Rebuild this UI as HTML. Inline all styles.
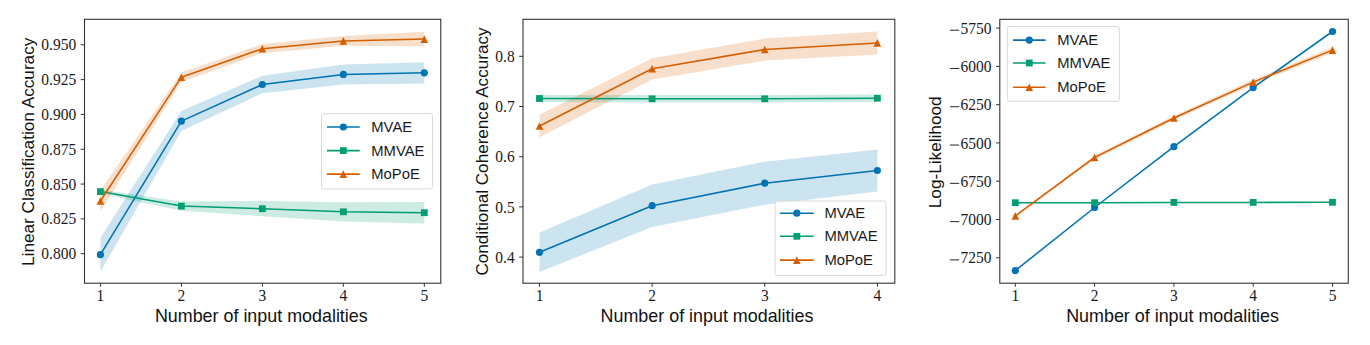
<!DOCTYPE html>
<html><head><meta charset="utf-8"><style>
html,body{margin:0;padding:0;background:#fff;}
body{width:1370px;height:345px;overflow:hidden;}
svg{display:block;}
.tk{font-family:"Liberation Serif",serif;font-size:15.5px;fill:#1a1a1a;}
.lb{font-family:"Liberation Sans",sans-serif;font-size:17.9px;fill:#111;}
.lg{font-family:"Liberation Sans",sans-serif;font-size:14.8px;fill:#1a1a1a;}
</style></head><body>
<svg width="1370" height="345" viewBox="0 0 1370 345">
<rect width="1370" height="345" fill="#fff"/>
<polygon points="100.40,237.70 181.38,111.10 262.36,75.80 343.34,64.40 424.32,62.20 424.32,83.40 343.34,84.40 262.36,93.20 181.38,131.10 100.40,271.70" fill="#0173b2" fill-opacity="0.2" stroke="none"/>
<polygon points="100.40,189.40 181.38,201.40 262.36,201.10 343.34,202.20 424.32,202.00 424.32,223.40 343.34,221.40 262.36,216.30 181.38,210.80 100.40,193.80" fill="#029e73" fill-opacity="0.2" stroke="none"/>
<polygon points="100.40,190.50 181.38,72.40 262.36,44.10 343.34,36.10 424.32,31.70 424.32,46.50 343.34,45.70 262.36,53.30 181.38,82.00 100.40,211.50" fill="#d55e00" fill-opacity="0.2" stroke="none"/>
<polyline points="100.40,254.70 181.38,121.10 262.36,84.50 343.34,74.40 424.32,72.80" fill="none" stroke="#0173b2" stroke-width="1.55" stroke-linejoin="round" stroke-linecap="butt"/>
<circle cx="100.40" cy="254.70" r="3.6" fill="#0173b2"/>
<circle cx="181.38" cy="121.10" r="3.6" fill="#0173b2"/>
<circle cx="262.36" cy="84.50" r="3.6" fill="#0173b2"/>
<circle cx="343.34" cy="74.40" r="3.6" fill="#0173b2"/>
<circle cx="424.32" cy="72.80" r="3.6" fill="#0173b2"/>
<polyline points="100.40,191.60 181.38,206.10 262.36,208.70 343.34,211.80 424.32,212.70" fill="none" stroke="#029e73" stroke-width="1.55" stroke-linejoin="round" stroke-linecap="butt"/>
<rect x="97.00" y="188.20" width="6.8" height="6.8" fill="#029e73"/>
<rect x="177.98" y="202.70" width="6.8" height="6.8" fill="#029e73"/>
<rect x="258.96" y="205.30" width="6.8" height="6.8" fill="#029e73"/>
<rect x="339.94" y="208.40" width="6.8" height="6.8" fill="#029e73"/>
<rect x="420.92" y="209.30" width="6.8" height="6.8" fill="#029e73"/>
<polyline points="100.40,201.00 181.38,77.20 262.36,48.70 343.34,40.90 424.32,39.10" fill="none" stroke="#d55e00" stroke-width="1.55" stroke-linejoin="round" stroke-linecap="butt"/>
<polygon points="100.40,197.20 96.60,204.80 104.20,204.80" fill="#d55e00"/>
<polygon points="181.38,73.40 177.58,81.00 185.18,81.00" fill="#d55e00"/>
<polygon points="262.36,44.90 258.56,52.50 266.16,52.50" fill="#d55e00"/>
<polygon points="343.34,37.10 339.54,44.70 347.14,44.70" fill="#d55e00"/>
<polygon points="424.32,35.30 420.52,42.90 428.12,42.90" fill="#d55e00"/>
<rect x="84.5" y="19.3" width="356.30" height="263.90" fill="none" stroke="#333333" stroke-width="1.1"/>
<line x1="100.40" y1="283.2" x2="100.40" y2="286.80" stroke="#333333" stroke-width="1"/>
<text class="tk" text-anchor="middle" transform="translate(100.40,301) scale(1,1.09)">1</text>
<line x1="181.38" y1="283.2" x2="181.38" y2="286.80" stroke="#333333" stroke-width="1"/>
<text class="tk" text-anchor="middle" transform="translate(181.38,301) scale(1,1.09)">2</text>
<line x1="262.36" y1="283.2" x2="262.36" y2="286.80" stroke="#333333" stroke-width="1"/>
<text class="tk" text-anchor="middle" transform="translate(262.36,301) scale(1,1.09)">3</text>
<line x1="343.34" y1="283.2" x2="343.34" y2="286.80" stroke="#333333" stroke-width="1"/>
<text class="tk" text-anchor="middle" transform="translate(343.34,301) scale(1,1.09)">4</text>
<line x1="424.32" y1="283.2" x2="424.32" y2="286.80" stroke="#333333" stroke-width="1"/>
<text class="tk" text-anchor="middle" transform="translate(424.32,301) scale(1,1.09)">5</text>
<line x1="80.70" y1="253.70" x2="84.50" y2="253.70" stroke="#333333" stroke-width="1"/>
<text class="tk" text-anchor="end" transform="translate(76.20,259.30) scale(1,1.09)">0.800</text>
<line x1="80.70" y1="218.88" x2="84.50" y2="218.88" stroke="#333333" stroke-width="1"/>
<text class="tk" text-anchor="end" transform="translate(76.20,224.48) scale(1,1.09)">0.825</text>
<line x1="80.70" y1="184.06" x2="84.50" y2="184.06" stroke="#333333" stroke-width="1"/>
<text class="tk" text-anchor="end" transform="translate(76.20,189.66) scale(1,1.09)">0.850</text>
<line x1="80.70" y1="149.25" x2="84.50" y2="149.25" stroke="#333333" stroke-width="1"/>
<text class="tk" text-anchor="end" transform="translate(76.20,154.85) scale(1,1.09)">0.875</text>
<line x1="80.70" y1="114.43" x2="84.50" y2="114.43" stroke="#333333" stroke-width="1"/>
<text class="tk" text-anchor="end" transform="translate(76.20,120.03) scale(1,1.09)">0.900</text>
<line x1="80.70" y1="79.61" x2="84.50" y2="79.61" stroke="#333333" stroke-width="1"/>
<text class="tk" text-anchor="end" transform="translate(76.20,85.21) scale(1,1.09)">0.925</text>
<line x1="80.70" y1="44.79" x2="84.50" y2="44.79" stroke="#333333" stroke-width="1"/>
<text class="tk" text-anchor="end" transform="translate(76.20,50.39) scale(1,1.09)">0.950</text>
<rect x="321.5" y="113.6" width="111.00" height="75.30" rx="2.5" ry="2.5" fill="#ffffff" fill-opacity="0.8" stroke="#d9d9d9" stroke-width="1"/>
<line x1="327" y1="127.00" x2="359.7" y2="127.00" stroke="#0173b2" stroke-width="1.55"/>
<circle cx="343.35" cy="127.00" r="3.6" fill="#0173b2"/>
<text x="371.3" y="132.00" class="lg">MVAE</text>
<line x1="327" y1="150.60" x2="359.7" y2="150.60" stroke="#029e73" stroke-width="1.55"/>
<rect x="339.95" y="147.20" width="6.8" height="6.8" fill="#029e73"/>
<text x="371.3" y="155.60" class="lg">MMVAE</text>
<line x1="327" y1="174.10" x2="359.7" y2="174.10" stroke="#d55e00" stroke-width="1.55"/>
<polygon points="343.35,170.30 339.55,177.90 347.15,177.90" fill="#d55e00"/>
<text x="371.3" y="179.10" class="lg">MoPoE</text>
<text x="261.3" y="321.6" class="lb" text-anchor="middle">Number of input modalities</text>
<text x="0" y="0" class="lb" style="font-size:17.2px" text-anchor="middle" transform="translate(34.2,151.8) rotate(-90)">Linear Classification Accuracy</text>
<polygon points="539.50,232.60 652.13,184.40 764.76,161.70 877.39,149.40 877.39,191.60 764.76,204.70 652.13,227.00 539.50,272.00" fill="#0173b2" fill-opacity="0.2" stroke="none"/>
<polygon points="539.50,94.90 652.13,95.00 764.76,95.00 877.39,94.40 877.39,102.00 764.76,102.60 652.13,102.60 539.50,102.10" fill="#029e73" fill-opacity="0.2" stroke="none"/>
<polygon points="539.50,114.80 652.13,58.20 764.76,38.50 877.39,31.40 877.39,54.40 764.76,60.50 652.13,79.40 539.50,137.20" fill="#d55e00" fill-opacity="0.2" stroke="none"/>
<polyline points="539.50,252.30 652.13,205.70 764.76,183.20 877.39,170.50" fill="none" stroke="#0173b2" stroke-width="1.55" stroke-linejoin="round" stroke-linecap="butt"/>
<circle cx="539.50" cy="252.30" r="3.6" fill="#0173b2"/>
<circle cx="652.13" cy="205.70" r="3.6" fill="#0173b2"/>
<circle cx="764.76" cy="183.20" r="3.6" fill="#0173b2"/>
<circle cx="877.39" cy="170.50" r="3.6" fill="#0173b2"/>
<polyline points="539.50,98.50 652.13,98.80 764.76,98.80 877.39,98.20" fill="none" stroke="#029e73" stroke-width="1.55" stroke-linejoin="round" stroke-linecap="butt"/>
<rect x="536.10" y="95.10" width="6.8" height="6.8" fill="#029e73"/>
<rect x="648.73" y="95.40" width="6.8" height="6.8" fill="#029e73"/>
<rect x="761.36" y="95.40" width="6.8" height="6.8" fill="#029e73"/>
<rect x="873.99" y="94.80" width="6.8" height="6.8" fill="#029e73"/>
<polyline points="539.50,126.00 652.13,68.80 764.76,49.50 877.39,42.90" fill="none" stroke="#d55e00" stroke-width="1.55" stroke-linejoin="round" stroke-linecap="butt"/>
<polygon points="539.50,122.20 535.70,129.80 543.30,129.80" fill="#d55e00"/>
<polygon points="652.13,65.00 648.33,72.60 655.93,72.60" fill="#d55e00"/>
<polygon points="764.76,45.70 760.96,53.30 768.56,53.30" fill="#d55e00"/>
<polygon points="877.39,39.10 873.59,46.70 881.19,46.70" fill="#d55e00"/>
<rect x="523.0" y="19.3" width="371.80" height="263.90" fill="none" stroke="#333333" stroke-width="1.1"/>
<line x1="539.50" y1="283.2" x2="539.50" y2="286.80" stroke="#333333" stroke-width="1"/>
<text class="tk" text-anchor="middle" transform="translate(539.50,301) scale(1,1.09)">1</text>
<line x1="652.13" y1="283.2" x2="652.13" y2="286.80" stroke="#333333" stroke-width="1"/>
<text class="tk" text-anchor="middle" transform="translate(652.13,301) scale(1,1.09)">2</text>
<line x1="764.76" y1="283.2" x2="764.76" y2="286.80" stroke="#333333" stroke-width="1"/>
<text class="tk" text-anchor="middle" transform="translate(764.76,301) scale(1,1.09)">3</text>
<line x1="877.39" y1="283.2" x2="877.39" y2="286.80" stroke="#333333" stroke-width="1"/>
<text class="tk" text-anchor="middle" transform="translate(877.39,301) scale(1,1.09)">4</text>
<line x1="519.20" y1="257.10" x2="523.00" y2="257.10" stroke="#333333" stroke-width="1"/>
<text class="tk" text-anchor="end" transform="translate(514.70,262.70) scale(1,1.09)">0.4</text>
<line x1="519.20" y1="206.90" x2="523.00" y2="206.90" stroke="#333333" stroke-width="1"/>
<text class="tk" text-anchor="end" transform="translate(514.70,212.50) scale(1,1.09)">0.5</text>
<line x1="519.20" y1="156.70" x2="523.00" y2="156.70" stroke="#333333" stroke-width="1"/>
<text class="tk" text-anchor="end" transform="translate(514.70,162.30) scale(1,1.09)">0.6</text>
<line x1="519.20" y1="106.50" x2="523.00" y2="106.50" stroke="#333333" stroke-width="1"/>
<text class="tk" text-anchor="end" transform="translate(514.70,112.10) scale(1,1.09)">0.7</text>
<line x1="519.20" y1="56.30" x2="523.00" y2="56.30" stroke="#333333" stroke-width="1"/>
<text class="tk" text-anchor="end" transform="translate(514.70,61.90) scale(1,1.09)">0.8</text>
<rect x="775.1" y="201" width="111.00" height="74.50" rx="2.5" ry="2.5" fill="#ffffff" fill-opacity="0.8" stroke="#d9d9d9" stroke-width="1"/>
<line x1="780" y1="213.20" x2="813.7" y2="213.20" stroke="#0173b2" stroke-width="1.55"/>
<circle cx="796.85" cy="213.20" r="3.6" fill="#0173b2"/>
<text x="824.4" y="218.20" class="lg">MVAE</text>
<line x1="780" y1="236.30" x2="813.7" y2="236.30" stroke="#029e73" stroke-width="1.55"/>
<rect x="793.45" y="232.90" width="6.8" height="6.8" fill="#029e73"/>
<text x="824.4" y="241.30" class="lg">MMVAE</text>
<line x1="780" y1="260.10" x2="813.7" y2="260.10" stroke="#d55e00" stroke-width="1.55"/>
<polygon points="796.85,256.30 793.05,263.90 800.65,263.90" fill="#d55e00"/>
<text x="824.4" y="265.10" class="lg">MoPoE</text>
<text x="707.0" y="321.6" class="lb" text-anchor="middle">Number of input modalities</text>
<text x="0" y="0" class="lb" style="font-size:17.1px" text-anchor="middle" transform="translate(488.1,151.5) rotate(-90)">Conditional Coherence Accuracy</text>
<polygon points="1015.30,214.40 1094.60,155.40 1173.90,115.80 1253.20,79.60 1332.50,47.10 1332.50,53.10 1253.20,84.60 1173.90,120.20 1094.60,159.40 1015.30,217.40" fill="#d55e00" fill-opacity="0.2" stroke="none"/>
<polyline points="1015.30,270.60 1094.60,207.50 1173.90,146.70 1253.20,87.60 1332.50,31.50" fill="none" stroke="#0173b2" stroke-width="1.55" stroke-linejoin="round" stroke-linecap="butt"/>
<circle cx="1015.30" cy="270.60" r="3.6" fill="#0173b2"/>
<circle cx="1094.60" cy="207.50" r="3.6" fill="#0173b2"/>
<circle cx="1173.90" cy="146.70" r="3.6" fill="#0173b2"/>
<circle cx="1253.20" cy="87.60" r="3.6" fill="#0173b2"/>
<circle cx="1332.50" cy="31.50" r="3.6" fill="#0173b2"/>
<polyline points="1015.30,202.70 1094.60,202.70 1173.90,202.40 1253.20,202.40 1332.50,202.30" fill="none" stroke="#029e73" stroke-width="1.55" stroke-linejoin="round" stroke-linecap="butt"/>
<rect x="1011.90" y="199.30" width="6.8" height="6.8" fill="#029e73"/>
<rect x="1091.20" y="199.30" width="6.8" height="6.8" fill="#029e73"/>
<rect x="1170.50" y="199.00" width="6.8" height="6.8" fill="#029e73"/>
<rect x="1249.80" y="199.00" width="6.8" height="6.8" fill="#029e73"/>
<rect x="1329.10" y="198.90" width="6.8" height="6.8" fill="#029e73"/>
<polyline points="1015.30,215.90 1094.60,157.40 1173.90,118.00 1253.20,82.10 1332.50,50.10" fill="none" stroke="#d55e00" stroke-width="1.55" stroke-linejoin="round" stroke-linecap="butt"/>
<polygon points="1015.30,212.10 1011.50,219.70 1019.10,219.70" fill="#d55e00"/>
<polygon points="1094.60,153.60 1090.80,161.20 1098.40,161.20" fill="#d55e00"/>
<polygon points="1173.90,114.20 1170.10,121.80 1177.70,121.80" fill="#d55e00"/>
<polygon points="1253.20,78.30 1249.40,85.90 1257.00,85.90" fill="#d55e00"/>
<polygon points="1332.50,46.30 1328.70,53.90 1336.30,53.90" fill="#d55e00"/>
<rect x="999.8" y="19.3" width="348.50" height="263.90" fill="none" stroke="#333333" stroke-width="1.1"/>
<line x1="1015.30" y1="283.2" x2="1015.30" y2="286.80" stroke="#333333" stroke-width="1"/>
<text class="tk" text-anchor="middle" transform="translate(1015.30,301) scale(1,1.09)">1</text>
<line x1="1094.60" y1="283.2" x2="1094.60" y2="286.80" stroke="#333333" stroke-width="1"/>
<text class="tk" text-anchor="middle" transform="translate(1094.60,301) scale(1,1.09)">2</text>
<line x1="1173.90" y1="283.2" x2="1173.90" y2="286.80" stroke="#333333" stroke-width="1"/>
<text class="tk" text-anchor="middle" transform="translate(1173.90,301) scale(1,1.09)">3</text>
<line x1="1253.20" y1="283.2" x2="1253.20" y2="286.80" stroke="#333333" stroke-width="1"/>
<text class="tk" text-anchor="middle" transform="translate(1253.20,301) scale(1,1.09)">4</text>
<line x1="1332.50" y1="283.2" x2="1332.50" y2="286.80" stroke="#333333" stroke-width="1"/>
<text class="tk" text-anchor="middle" transform="translate(1332.50,301) scale(1,1.09)">5</text>
<line x1="996.00" y1="28.10" x2="999.80" y2="28.10" stroke="#333333" stroke-width="1"/>
<line x1="950.00" y1="30.20" x2="959.20" y2="30.20" stroke="#1a1a1a" stroke-width="0.95"/>
<text class="tk" text-anchor="end" transform="translate(991.50,33.70) scale(1,1.09)">5750</text>
<line x1="996.00" y1="66.38" x2="999.80" y2="66.38" stroke="#333333" stroke-width="1"/>
<line x1="950.00" y1="68.48" x2="959.20" y2="68.48" stroke="#1a1a1a" stroke-width="0.95"/>
<text class="tk" text-anchor="end" transform="translate(991.50,71.98) scale(1,1.09)">6000</text>
<line x1="996.00" y1="104.66" x2="999.80" y2="104.66" stroke="#333333" stroke-width="1"/>
<line x1="950.00" y1="106.76" x2="959.20" y2="106.76" stroke="#1a1a1a" stroke-width="0.95"/>
<text class="tk" text-anchor="end" transform="translate(991.50,110.26) scale(1,1.09)">6250</text>
<line x1="996.00" y1="142.95" x2="999.80" y2="142.95" stroke="#333333" stroke-width="1"/>
<line x1="950.00" y1="145.05" x2="959.20" y2="145.05" stroke="#1a1a1a" stroke-width="0.95"/>
<text class="tk" text-anchor="end" transform="translate(991.50,148.55) scale(1,1.09)">6500</text>
<line x1="996.00" y1="181.23" x2="999.80" y2="181.23" stroke="#333333" stroke-width="1"/>
<line x1="950.00" y1="183.33" x2="959.20" y2="183.33" stroke="#1a1a1a" stroke-width="0.95"/>
<text class="tk" text-anchor="end" transform="translate(991.50,186.83) scale(1,1.09)">6750</text>
<line x1="996.00" y1="219.51" x2="999.80" y2="219.51" stroke="#333333" stroke-width="1"/>
<line x1="950.00" y1="221.61" x2="959.20" y2="221.61" stroke="#1a1a1a" stroke-width="0.95"/>
<text class="tk" text-anchor="end" transform="translate(991.50,225.11) scale(1,1.09)">7000</text>
<line x1="996.00" y1="257.80" x2="999.80" y2="257.80" stroke="#333333" stroke-width="1"/>
<line x1="950.00" y1="259.90" x2="959.20" y2="259.90" stroke="#1a1a1a" stroke-width="0.95"/>
<text class="tk" text-anchor="end" transform="translate(991.50,263.40) scale(1,1.09)">7250</text>
<rect x="1007.3" y="26.5" width="112.10" height="74.80" rx="2.5" ry="2.5" fill="#ffffff" fill-opacity="0.8" stroke="#d9d9d9" stroke-width="1"/>
<line x1="1013" y1="40.10" x2="1045.6" y2="40.10" stroke="#0173b2" stroke-width="1.55"/>
<circle cx="1029.30" cy="40.10" r="3.6" fill="#0173b2"/>
<text x="1057.3" y="45.10" class="lg">MVAE</text>
<line x1="1013" y1="63.00" x2="1045.6" y2="63.00" stroke="#029e73" stroke-width="1.55"/>
<rect x="1025.90" y="59.60" width="6.8" height="6.8" fill="#029e73"/>
<text x="1057.3" y="68.00" class="lg">MMVAE</text>
<line x1="1013" y1="87.20" x2="1045.6" y2="87.20" stroke="#d55e00" stroke-width="1.55"/>
<polygon points="1029.30,83.40 1025.50,91.00 1033.10,91.00" fill="#d55e00"/>
<text x="1057.3" y="92.20" class="lg">MoPoE</text>
<text x="1172.6" y="321.6" class="lb" text-anchor="middle">Number of input modalities</text>
<text x="0" y="0" class="lb" style="font-size:17.2px" text-anchor="middle" transform="translate(941.3,152.3) rotate(-90)">Log-Likelihood</text>
</svg>
</body></html>
